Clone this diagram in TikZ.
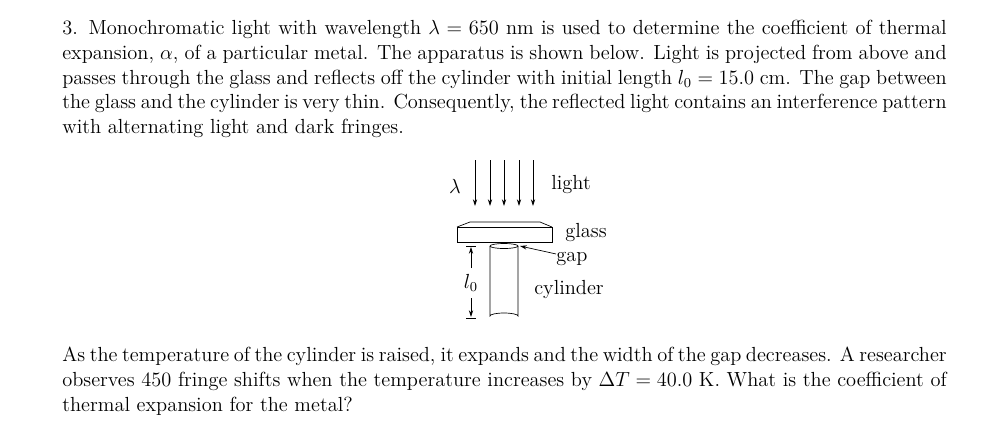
\documentclass[tikz,border=0pt]{standalone}
\usetikzlibrary{arrows.meta}
\begin{document}
\begin{tikzpicture}[x=0.588pt,y=-0.588pt,
  txt/.style={anchor=north west,inner sep=0pt,text width=520pt,align=justify,font=\fontsize{12}{14.5}\selectfont},
  lbl/.style={inner sep=0pt,font=\fontsize{12}{14.5}\selectfont},
  ray/.style={-{Stealth[length=4pt,width=2.5pt]},thin}]
\useasboundingbox (0,0) rectangle (1000,425);
\node[txt] (top) at (62,20) {3. Monochromatic light with wavelength $\lambda=650$ nm is used to determine the coefficient of thermal\linebreak expansion, $\alpha$, of a particular metal. The apparatus is shown below. Light is projected from above and\linebreak passes through the glass and reflects off the cylinder with initial length $l_0=15.0$ cm. The gap between\linebreak the glass and the cylinder is very thin. Consequently, the reflected light contains an interference pattern\linebreak with alternating light and dark fringes.};
\node[txt] (bot) at (62,347) {As the temperature of the cylinder is raised, it expands and the width of the gap decreases. A researcher\linebreak observes 450 fringe shifts when the temperature increases by $\Delta T=40.0$ K. What is the coefficient of\linebreak thermal expansion for the metal?};
\foreach \x [count=\i] in {475,490,504,519,533}{
  \coordinate (s\i) at (\x,160); \coordinate (e\i) at (\x,206);
  \draw[ray] (s\i) -- (e\i);}
\node[lbl] (lam) at (455,186) {$\lambda$};
\node[lbl,anchor=west] (light) at (551,184) {light};
\draw[thin] (457,227) -- (470,222) -- (540,222) -- (552,227);
\draw[thin] (457,227) rectangle (552,242);
\node[lbl,anchor=west] (glass) at (565,232) {glass};
\draw[thin] (490,246) -- (490,316) arc[start angle=180,end angle=360,x radius=14,y radius=3] -- (518,246);
\draw[thin] (504,246) ellipse[x radius=14,y radius=2.5];
\coordinate (gt) at (520,246);
\node[lbl,anchor=west] (gap) at (556,259) {gap};
\draw[-{Stealth[length=4pt,width=2.5pt]},thin] (gap.north west) ++(0,2) -- (gt);
\node[lbl,anchor=west] (cyl) at (534,289) {cylinder};
\draw[thin] (466,246) -- (476,246); \draw[thin] (466,318) -- (476,318);
\node[lbl] (l0) at (471,283) {$l_0$};
\draw[ray] (471,268) -- (471,247);
\draw[ray] (471,298) -- (471,317);
\end{tikzpicture}
\end{document}
